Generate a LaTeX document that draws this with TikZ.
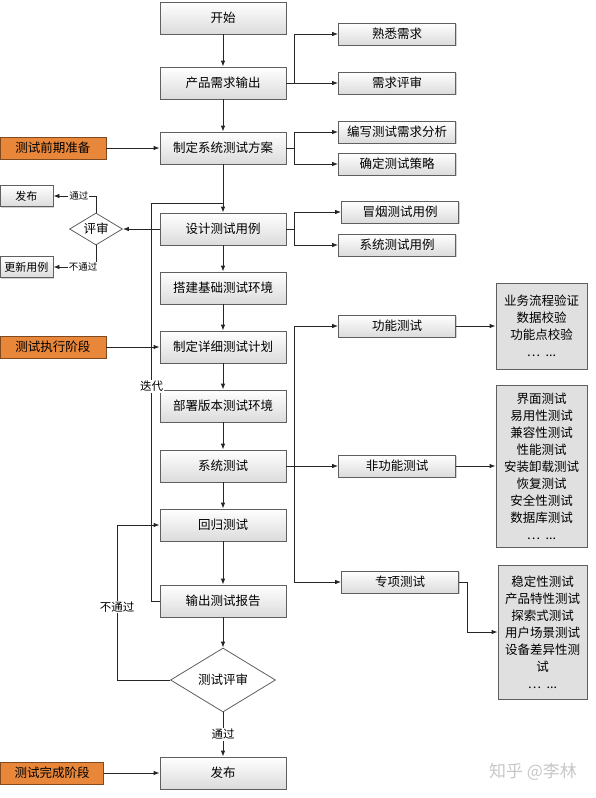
\documentclass[tikz,border=0pt]{standalone}
\usepackage{fontspec}
\setmainfont{Noto Sans CJK SC}
\usetikzlibrary{positioning,calc,arrows.meta,shapes.geometric,shadows}
\definecolor{stageOrange}{RGB}{232,134,58}
\definecolor{boxLine}{RGB}{95,95,95}

\begin{document}
\begin{tikzpicture}[x=1pt,y=1pt, every node/.style={inner sep=0pt}]
  \def\midx{223}
  \def\subx{397}
  \def\listx{541.5}

  \tikzset{
    stepbox/.style={draw=boxLine, line width=0.8pt, top color=white, bottom color=black!14,
      minimum width=126, minimum height=32, font=\fontsize{12.5}{14}\selectfont,
      drop shadow={shadow xshift=1pt, shadow yshift=-1pt, fill=black!35}},
    subbox/.style={stepbox, minimum width=117, minimum height=22},
    smallbox/.style={stepbox, minimum width=53, minimum height=21, font=\fontsize{11}{12}\selectfont},
    listbox/.style={draw=boxLine, line width=0.8pt, fill=black!12, minimum width=91, align=center,
      font=\fontsize{12.5}{17}\selectfont,
      drop shadow={shadow xshift=1pt, shadow yshift=-1pt, fill=black!35}},
    stagebox/.style={draw=stageOrange!55!black, line width=0.8pt, fill=stageOrange,
      minimum width=106, minimum height=22, font=\fontsize{12.5}{14}\selectfont},
    decide/.style={diamond, draw=boxLine, line width=0.8pt, fill=white, aspect=1.6,
      font=\fontsize{12.5}{14}\selectfont},
    flow/.style={line width=0.8pt, draw=black!85},
    arr/.style={flow, -{Latex[length=6pt,width=4.5pt]}},
    lbl/.style={fill=white, inner sep=1pt, font=\fontsize{11.5}{13}\selectfont},
    tinylbl/.style={fill=white, inner sep=1pt, font=\fontsize{9.5}{11}\selectfont}
  }

  \path[use as bounding box] (0,0) rectangle (595,-798);

  % main column
  \node[stepbox] (start) at (\midx,-18) {开始};
  \node[stepbox] (prd) at (\midx,-83) {产品需求输出};
  \node[stepbox] (plan) at (\midx,-148) {制定系统测试方案};
  \node[stepbox] (design) at (\midx,-229) {设计测试用例};
  \node[stepbox] (env) at (\midx,-288) {搭建基础测试环境};
  \node[stepbox] (detail) at (\midx,-347) {制定详细测试计划};
  \node[stepbox] (deploy) at (\midx,-406) {部署版本测试环境};
  \node[stepbox] (systest) at (\midx,-466) {系统测试};
  \node[stepbox] (regress) at (\midx,-525) {回归测试};
  \node[stepbox] (report) at (\midx,-601) {输出测试报告};
  \node[decide, minimum width=105, minimum height=64] (review) at (\midx,-680) {测试评审};
  \node[stepbox] (release) at (\midx,-773) {发布};

  % stage markers
  \node[stagebox] (prep) at (53,-148) {测试前期准备};
  \node[stagebox] (exec) at (53,-347) {测试执行阶段};
  \node[stagebox, minimum width=103] (done) at (52,-773) {测试完成阶段};

  % case review on the left
  \node[decide, minimum width=53, minimum height=32] (rev) at (96,-229) {评审};
  \node[smallbox] (pub) at (26.5,-196) {发布};
  \node[smallbox] (upd) at (26.5,-267) {更新用例};

  % sub steps
  \node[subbox] (fam) at (\subx,-34) {熟悉需求};
  \node[subbox] (reqrev) at (\subx,-83) {需求评审};
  \node[subbox] (analysis) at (\subx,-132) {编写测试需求分析};
  \node[subbox] (strategy) at (\subx,-164) {确定测试策略};
  \node[subbox] (smoke) at (400,-212) {冒烟测试用例};
  \node[subbox] (syscase) at (\subx,-245) {系统测试用例};
  \node[subbox] (func) at (\subx,-326) {功能测试};
  \node[subbox] (nonfunc) at (\subx,-466) {非功能测试};
  \node[subbox] (special) at (400,-582) {专项测试};

  % test item lists
  \node[listbox, minimum height=86] (funclist) at (\listx,-326)
    {业务流程验证\\数据校验\\功能点校验\\…\ \ ...};
  \node[listbox, minimum height=162] (nonfunclist) at (\listx,-466)
    {界面测试\\易用性测试\\兼容性测试\\性能测试\\安装卸载测试\\恢复测试\\安全性测试\\数据库测试\\…\ \ ...};
  \node[listbox, minimum width=89, minimum height=134] (speclist) at (542.5,-632)
    {稳定性测试\\产品特性测试\\探索式测试\\用户场景测试\\设备差异性测\\试\\…\ \ ...};

  % main flow
  \draw[arr] (start) -- (prd);
  \draw[arr] (prd) -- (plan);
  \draw[arr] (plan) -- (design);
  \draw[arr] (design) -- (env);
  \draw[arr] (env) -- (detail);
  \draw[arr] (detail) -- (deploy);
  \draw[arr] (deploy) -- (systest);
  \draw[arr] (systest) -- (regress);
  \draw[arr] (regress) -- (report);
  \draw[arr] (report) -- (review);
  \draw[arr] (review) -- node[lbl] {通过} (release);

  \draw[arr] (prep) -- (plan);
  \draw[arr] (exec) -- (detail);
  \draw[arr] (done) -- (release);

  % branches to the right
  \coordinate (j1) at ($(prd.east)+(8,0)$);
  \draw[flow] (prd.east) -- (j1);
  \draw[arr] (j1) |- (fam.west);
  \draw[arr] (j1) -- (reqrev.west);

  \coordinate (j2) at ($(plan.east)+(8,0)$);
  \draw[flow] (plan.east) -- (j2);
  \draw[arr] (j2) |- (analysis.west);
  \draw[arr] (j2) |- (strategy.west);

  \coordinate (j3) at ($(design.east)+(8,0)$);
  \draw[flow] (design.east) -- (j3);
  \draw[arr] (j3) |- (smoke.west);
  \draw[arr] (j3) |- (syscase.west);

  \coordinate (j4) at ($(systest.east)+(8,0)$);
  \draw[flow] (systest.east) -- (j4);
  \draw[arr] (j4) |- (func.west);
  \draw[arr] (j4) -- (nonfunc.west);
  \draw[arr] (j4) |- (special.west);

  \draw[arr] (func) -- (funclist);
  \draw[arr] (nonfunc) -- (nonfunclist);
  \draw[arr] (special.east) -- ++(8,0) |- (speclist.west);

  % case review
  \draw[arr] (design.west) -- (rev.east);
  \draw[arr] (rev.north) |- node[tinylbl, pos=0.7] {通过} (pub.east);
  \draw[arr] (rev.south) |- node[tinylbl, pos=0.65] {不通过} (upd.east);

  % loops
  \coordinate (itop) at ($(design.north)+(0,9)$);
  \draw[flow] (report.west) -- ++(-8,0) |- node[lbl, pos=0.27] {迭代} (itop);
  \draw[arr] (review.west) -- ++(-53,0) |- node[lbl, pos=0.235] {不通过} (regress.west);

  % watermark
  \node[text=black!22, font=\fontsize{17}{18}\selectfont] (mark) at (533,-772) {知乎 @李林};

\end{tikzpicture}
\end{document}
